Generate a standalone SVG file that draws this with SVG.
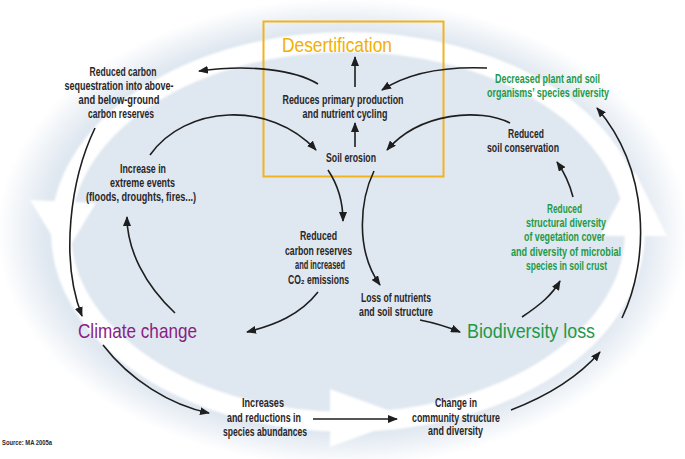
<svg xmlns="http://www.w3.org/2000/svg" width="685" height="459" viewBox="0 0 685 459">
<defs>
<radialGradient id="bg" cx="0.5" cy="0.5" r="0.5">
<stop offset="0" stop-color="#dfe7f0"/>
<stop offset="0.86" stop-color="#dfe7f0"/>
<stop offset="1" stop-color="#dfe7f0" stop-opacity="0"/>
</radialGradient>
<marker id="ah" markerUnits="userSpaceOnUse" markerWidth="10" markerHeight="8" refX="9" refY="4" orient="auto">
<path d="M0,0 L10,4 L0,8 z" fill="#1e1e1e"/>
</marker>
<filter id="soft" x="-5%" y="-5%" width="110%" height="110%"><feGaussianBlur stdDeviation="1.2"/></filter>
</defs>
<style>
.t{font-family:"Liberation Sans",Arial,sans-serif;font-size:12.5px;font-weight:bold;fill:#2a2627;text-anchor:middle}
.s{text-anchor:start}
.g{fill:#1d9a48}
.big{font-size:21px;font-weight:normal}
.c{fill:none;stroke:#1e1e1e;stroke-width:1.6;marker-end:url(#ah)}
</style>
<rect width="685" height="459" fill="#ffffff"/>
<ellipse cx="343" cy="232" rx="346" ry="234" fill="url(#bg)"/>
<g id="ring" filter="url(#soft)" fill="#ffffff">
<ellipse cx="348" cy="232" rx="287" ry="190" fill="none" stroke="#ffffff" stroke-width="20"/>
<polygon points="30,200 96,203 64,256"/>
<polygon points="330,389 410,418 330,447"/>
<polygon points="600,236 667,236 635,172"/>
</g>
<g id="desertification">
<rect x="263.5" y="21.5" width="180" height="155" fill="none" stroke="#f2b320" stroke-width="2"/>
<text class="t big" x="337" y="52" textLength="110" lengthAdjust="spacingAndGlyphs" style="fill:#f2b000">Desertification</text>
</g>
<g id="reduces-primary">
<text class="t" x="343" y="104" textLength="121" lengthAdjust="spacingAndGlyphs">Reduces primary production</text>
<text class="t" x="345" y="118" textLength="85" lengthAdjust="spacingAndGlyphs">and nutrient cycling</text>
</g>
<g id="soil-erosion">
<text class="t" x="351" y="162" textLength="50" lengthAdjust="spacingAndGlyphs">Soil erosion</text>
</g>
<g id="reduced-sequestration">
<text class="t" x="123" y="76" textLength="67" lengthAdjust="spacingAndGlyphs">Reduced carbon</text>
<text class="t" x="119" y="90" textLength="109" lengthAdjust="spacingAndGlyphs">sequestration into above-</text>
<text class="t" x="119" y="104" textLength="81" lengthAdjust="spacingAndGlyphs">and below-ground</text>
<text class="t" x="121" y="118" textLength="66" lengthAdjust="spacingAndGlyphs">carbon reserves</text>
</g>
<g id="extreme-events">
<text class="t" x="143" y="173" textLength="46" lengthAdjust="spacingAndGlyphs">Increase in</text>
<text class="t" x="142.5" y="187" textLength="65" lengthAdjust="spacingAndGlyphs">extreme events</text>
<text class="t" x="141" y="201" textLength="110" lengthAdjust="spacingAndGlyphs">(floods, droughts, fires...)</text>
</g>
<g id="decreased-diversity">
<text class="t g" x="547.5" y="83" textLength="105" lengthAdjust="spacingAndGlyphs">Decreased plant and soil</text>
<text class="t g" x="548" y="97" textLength="122" lengthAdjust="spacingAndGlyphs">organisms’  species diversity</text>
</g>
<g id="reduced-soil-conservation">
<text class="t" x="526" y="138" textLength="36" lengthAdjust="spacingAndGlyphs">Reduced</text>
<text class="t" x="523" y="152" textLength="72" lengthAdjust="spacingAndGlyphs">soil conservation</text>
</g>
<g id="reduced-structural">
<text class="t g" x="564.5" y="213" textLength="35" lengthAdjust="spacingAndGlyphs">Reduced</text>
<text class="t g" x="566" y="227" textLength="80" lengthAdjust="spacingAndGlyphs">structural diversity</text>
<text class="t g" x="564.5" y="241" textLength="81" lengthAdjust="spacingAndGlyphs">of vegetation cover</text>
<text class="t g" x="566" y="256" textLength="110" lengthAdjust="spacingAndGlyphs">and diversity of microbial</text>
<text class="t g" x="566.5" y="270" textLength="81" lengthAdjust="spacingAndGlyphs">species in soil crust</text>
</g>
<g id="reduced-carbon-reserves">
<text class="t" x="318.5" y="240" textLength="37" lengthAdjust="spacingAndGlyphs">Reduced</text>
<text class="t" x="318.5" y="255" textLength="67" lengthAdjust="spacingAndGlyphs">carbon reserves</text>
<text class="t" x="320" y="269" textLength="50" lengthAdjust="spacingAndGlyphs">and increased</text>
<text class="t" x="318.5" y="284" textLength="61" lengthAdjust="spacingAndGlyphs">CO₂ emissions</text>
</g>
<g id="loss-nutrients">
<text class="t" x="396" y="302" textLength="70" lengthAdjust="spacingAndGlyphs">Loss of nutrients</text>
<text class="t" x="396" y="316" textLength="74" lengthAdjust="spacingAndGlyphs">and soil structure</text>
</g>
<g id="climate-change">
<text class="t big" x="137.5" y="338" textLength="119" lengthAdjust="spacingAndGlyphs" style="fill:#8a1d85">Climate change</text>
</g>
<g id="biodiversity-loss">
<text class="t big g" x="531" y="338" textLength="128" lengthAdjust="spacingAndGlyphs">Biodiversity loss</text>
</g>
<g id="species-abundances">
<text class="t" x="263" y="407" textLength="42" lengthAdjust="spacingAndGlyphs">Increases</text>
<text class="t" x="264" y="422" textLength="74" lengthAdjust="spacingAndGlyphs">and reductions in</text>
<text class="t" x="265" y="436" textLength="84" lengthAdjust="spacingAndGlyphs">species abundances</text>
</g>
<g id="community-structure">
<text class="t" x="456" y="407" textLength="42" lengthAdjust="spacingAndGlyphs">Change in</text>
<text class="t" x="456" y="422" textLength="88" lengthAdjust="spacingAndGlyphs">community structure</text>
<text class="t" x="455.5" y="435" textLength="55" lengthAdjust="spacingAndGlyphs">and diversity</text>
</g>
<g id="source">
<text class="t s" x="2" y="445" style="font-size:7.5px" textLength="50" lengthAdjust="spacingAndGlyphs">Source: MA 2005a</text>
</g>
<g id="connectors">
<path class="c" d="M355,87 L355,57"/>
<path class="c" d="M355,147 L355,123"/>
<path class="c" d="M318,84 C295,70 250,64 199,71"/>
<path class="c" d="M487,68 C440,66 405,75 382,90"/>
<path class="c" d="M150,155 C185,105 270,100 316,150"/>
<path class="c" d="M510,123 C480,108 420,112 387,150"/>
<path class="c" d="M328,170 C338,185 343,200 343,221"/>
<path class="c" d="M374,171 C360,200 355,250 380,285"/>
<path class="c" d="M318,292 C300,315 275,325 247,332"/>
<path class="c" d="M420,320 C435,323 448,327 460,332"/>
<path class="c" d="M175,313 C145,285 127,250 127,217"/>
<path class="c" d="M95,128 C70,180 60,260 82,316"/>
<path class="c" d="M103,345 C130,380 170,405 209,413"/>
<path class="c" d="M313,419 L397,419"/>
<path class="c" d="M511,410 C550,395 580,375 600,352"/>
<path class="c" d="M622,318 C650,260 650,170 597,108"/>
<path class="c" d="M573,197 C570,185 564,172 557,162"/>
<path class="c" d="M522,317 C540,305 552,295 560,281"/>
</g>
</svg>
